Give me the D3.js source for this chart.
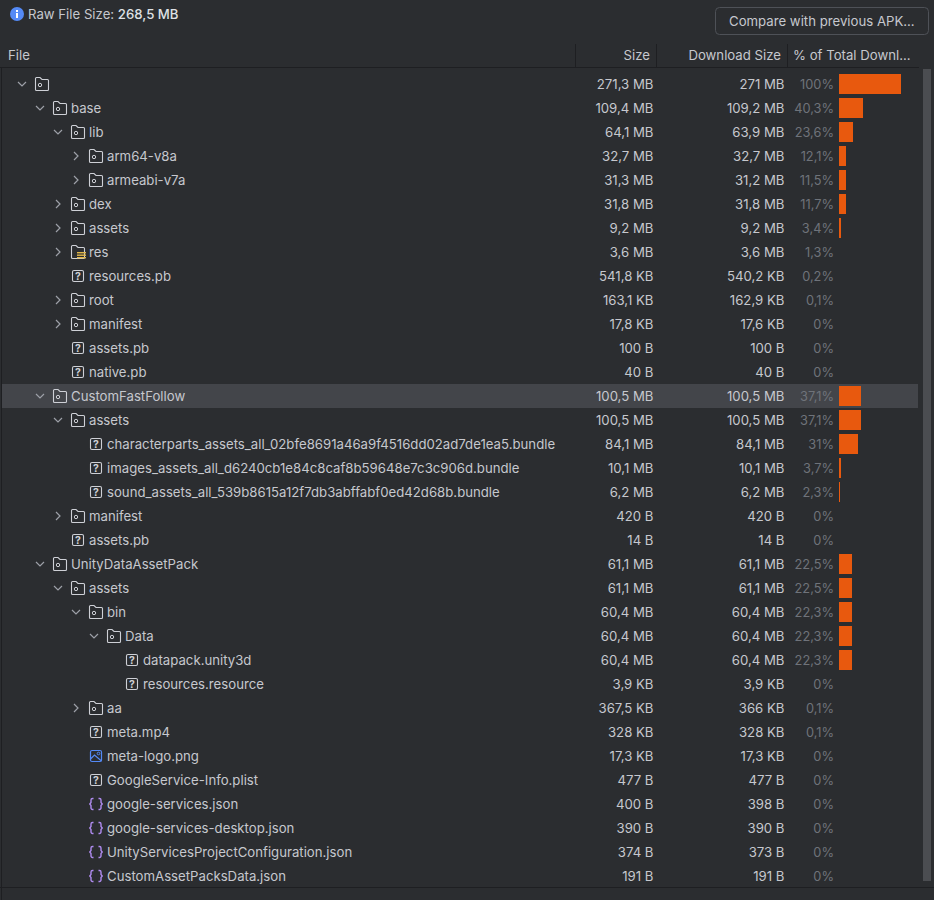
<!DOCTYPE html>
<html><head><meta charset="utf-8">
<script src="https://cdn.jsdelivr.net/npm/d3@7"></script>
<style>html,body{margin:0;padding:0;background:#2b2d30;overflow:hidden}svg{display:block}text{font-family:Inter,"Noto Sans",sans-serif;font-size:13.2px}</style>
</head><body><svg id="c" width="934" height="900"></svg>
<script>
const names=["","base","lib","arm64-v8a","armeabi-v7a","dex","assets","res","resources.pb","root","manifest","assets.pb","native.pb","CustomFastFollow","assets","characterparts_assets_all_02bfe8691a46a9f4516dd02ad7de1ea5.bundle","images_assets_all_d6240cb1e84c8caf8b59648e7c3c906d.bundle","sound_assets_all_539b8615a12f7db3abffabf0ed42d68b.bundle","manifest","assets.pb","UnityDataAssetPack","assets","bin","Data","datapack.unity3d","resources.resource","aa","meta.mp4","meta-logo.png","GoogleService-Info.plist","google-services.json","google-services-desktop.json","UnityServicesProjectConfiguration.json","CustomAssetPacksData.json"];
const depths=[0,1,2,3,3,2,2,2,2,2,2,2,2,1,2,3,3,3,2,2,1,2,3,4,5,5,3,3,3,3,3,3,3,3];
const kinds=["o","o","o","c","c","c","c","r","f","c","c","f","f","o","o","f","f","f","c","f","o","o","o","o","f","f","c","f","i","f","j","j","j","j"];
const sizes=["271,3 MB","109,4 MB","64,1 MB","32,7 MB","31,3 MB","31,8 MB","9,2 MB","3,6 MB","541,8 KB","163,1 KB","17,8 KB","100 B","40 B","100,5 MB","100,5 MB","84,1 MB","10,1 MB","6,2 MB","420 B","14 B","61,1 MB","61,1 MB","60,4 MB","60,4 MB","60,4 MB","3,9 KB","367,5 KB","328 KB","17,3 KB","477 B","400 B","390 B","374 B","191 B"];
const downloads=["271 MB","109,2 MB","63,9 MB","32,7 MB","31,2 MB","31,8 MB","9,2 MB","3,6 MB","540,2 KB","162,9 KB","17,6 KB","100 B","40 B","100,5 MB","100,5 MB","84,1 MB","10,1 MB","6,2 MB","420 B","14 B","61,1 MB","61,1 MB","60,4 MB","60,4 MB","60,4 MB","3,9 KB","366 KB","328 KB","17,3 KB","477 B","398 B","390 B","373 B","191 B"];
const pcts=[100,40.3,23.6,12.1,11.5,11.7,3.4,1.3,0.2,0.1,0,0,0,37.1,37.1,31,3.7,2.3,0,0,22.5,22.5,22.3,22.3,22.3,0,0.1,0.1,0,0,0,0,0,0];
const headers=["File","Size","Download Size","% of Total Downl..."];
const selectedRow=13;

const rows=names.map((name,i)=>({i,name,depth:depths[i],kind:kinds[i],size:sizes[i],dl:downloads[i],pct:pcts[i]}));
const svg=d3.select("#c");
const y=d3.scaleBand().domain(d3.range(names.length)).range([72,72+24*names.length]);
const w=d3.scaleLinear().domain([0,100]).range([0,62.2]);
const fmt=p=>String(p).replace(".",",")+"%";
const TXT="#c6c8ce",DIM="#6f737a",LINE="#1e1f22",BAR="#e8590e",ICON="#ced0d6";

// frame
svg.append("rect").attr("x",1).attr("y",68).attr("width",1).attr("height",832).attr("fill",LINE);
svg.append("rect").attr("x",0).attr("y",67).attr("width",919).attr("height",1).attr("fill",LINE);
svg.append("rect").attr("x",0).attr("y",887).attr("width",934).attr("height",1).attr("fill",LINE);
[575,656,787].forEach(x=>svg.append("rect").attr("x",x).attr("y",44).attr("width",1).attr("height",23).attr("fill",LINE));
svg.append("rect").attr("x",923).attr("y",69).attr("width",8).attr("height",812).attr("fill","#4b4d51");

// top bar
svg.append("circle").attr("cx",17).attr("cy",14).attr("r",7).attr("fill","#548af7");
svg.append("rect").attr("x",16).attr("y",13).attr("width",2).attr("height",5).attr("fill","#fff");
svg.append("rect").attr("x",16).attr("y",10).attr("width",2).attr("height",2).attr("fill","#fff");
const t=svg.append("text").attr("x",28).attr("y",19).attr("fill",TXT);
t.append("tspan").text("Raw File Size: ");
t.append("tspan").attr("fill","#dfe1e5").attr("font-weight",500).text("268,5 MB");
svg.append("rect").attr("x",715.5).attr("y",7.5).attr("width",213).attr("height",27).attr("rx",4).attr("fill","none").attr("stroke","#4e5157");
svg.append("text").attr("x",729).attr("y",26).attr("fill",TXT).text("Compare with previous APK...");

// headers
svg.selectAll(".h").data(headers).join("text").attr("class","h").attr("y",60).attr("fill",TXT)
 .attr("x",(d,i)=>[8,650,781,793][i]).attr("text-anchor",(d,i)=>i==1||i==2?"end":"start").text(d=>d);

// selected
svg.append("rect").attr("x",2).attr("y",y(selectedRow)).attr("width",916).attr("height",24).attr("fill","#43454a");

const g=svg.selectAll(".r").data(rows).join("g").attr("class","r").attr("transform",d=>`translate(0,${y(d.i)})`);
g.append("text").attr("x",d=>53+18*d.depth).attr("y",17).attr("fill",TXT).text(d=>d.name);
g.append("text").attr("x",653.5).attr("y",17).attr("text-anchor","end").attr("fill",TXT).text(d=>d.size);
g.append("text").attr("x",784.5).attr("y",17).attr("text-anchor","end").attr("fill",TXT).text(d=>d.dl);
g.append("text").attr("x",834).attr("y",17).attr("text-anchor","end").attr("fill",DIM).style("font-size","12.8px").text(d=>fmt(d.pct));
g.append("rect").attr("x",839).attr("y",2).attr("height",20).attr("fill",BAR)
 .attr("width",d=>Math.max(0,Math.floor(w(d.pct)-0.1)));

// chevrons
g.filter(d=>d.kind=="o").append("path").attr("transform",d=>`translate(${22+18*d.depth},12)`)
 .attr("d","M-4,-2 L0,2 L4,-2").attr("fill","none").attr("stroke","#9da0a8").attr("stroke-width",1.2);
g.filter(d=>d.kind=="c"||d.kind=="r").append("path").attr("transform",d=>`translate(${22+18*d.depth},12)`)
 .attr("d","M-2,-4 L2,0 L-2,4").attr("fill","none").attr("stroke","#9da0a8").attr("stroke-width",1.2);

// icons
const ic=g.append("g").attr("transform",d=>`translate(${35+18*d.depth},5)`);
const folder="M0.5,3 V1.5 a1,1 0 0 1 1,-1 H5 L7,2.5 H12.5 a1,1 0 0 1 1,1 V12.5 a1,1 0 0 1 -1,1 H1.5 a1,1 0 0 1 -1,-1 Z";
const ff=ic.filter(d=>"ocr".includes(d.kind));
ff.append("path").attr("d",folder).attr("fill","none").attr("stroke",ICON).attr("stroke-width",1.1);
ff.filter(d=>d.kind!="r").append("circle").attr("cx",5).attr("cy",8).attr("r",1.7).attr("fill","none").attr("stroke",ICON);
const rr=ic.filter(d=>d.kind=="r");
[7,9.5,12].forEach(v=>rr.append("rect").attr("x",6).attr("y",v).attr("width",9).attr("height",1.4).attr("fill","#e0b64a"));
const fq=ic.filter(d=>d.kind=="f");
fq.append("rect").attr("x",1.5).attr("y",1.5).attr("width",11).attr("height",11).attr("rx",1.5).attr("fill","none").attr("stroke",ICON).attr("stroke-width",1.1);
fq.append("text").attr("x",7).attr("y",11).attr("text-anchor","middle").attr("fill",ICON).attr("font-weight",700).style("font-size","10.5px").text("?");
const fi=ic.filter(d=>d.kind=="i");
fi.append("rect").attr("x",1.5).attr("y",1.5).attr("width",11).attr("height",11).attr("rx",1.5).attr("fill","none").attr("stroke","#548af7").attr("stroke-width",1.2);
fi.append("path").attr("d","M1.5,10 L5.5,6 L12.5,12").attr("fill","none").attr("stroke","#548af7").attr("stroke-width",1.2);
fi.append("circle").attr("cx",9.5).attr("cy",4.5).attr("r",1.3).attr("fill","none").attr("stroke","#548af7");
ic.filter(d=>d.kind=="j").append("path")
 .attr("d","M4.5,1.5 H3.5 a1.5,1.5 0 0 0 -1.5,1.5 V5.5 L0.8,7 L2,8.5 V11 a1.5,1.5 0 0 0 1.5,1.5 H4.5 M9.5,1.5 H10.5 a1.5,1.5 0 0 1 1.5,1.5 V5.5 L13.2,7 L12,8.5 V11 a1.5,1.5 0 0 1 -1.5,1.5 H9.5")
 .attr("fill","none").attr("stroke","#b08cf0").attr("stroke-width",1.4);
</script></body></html>
